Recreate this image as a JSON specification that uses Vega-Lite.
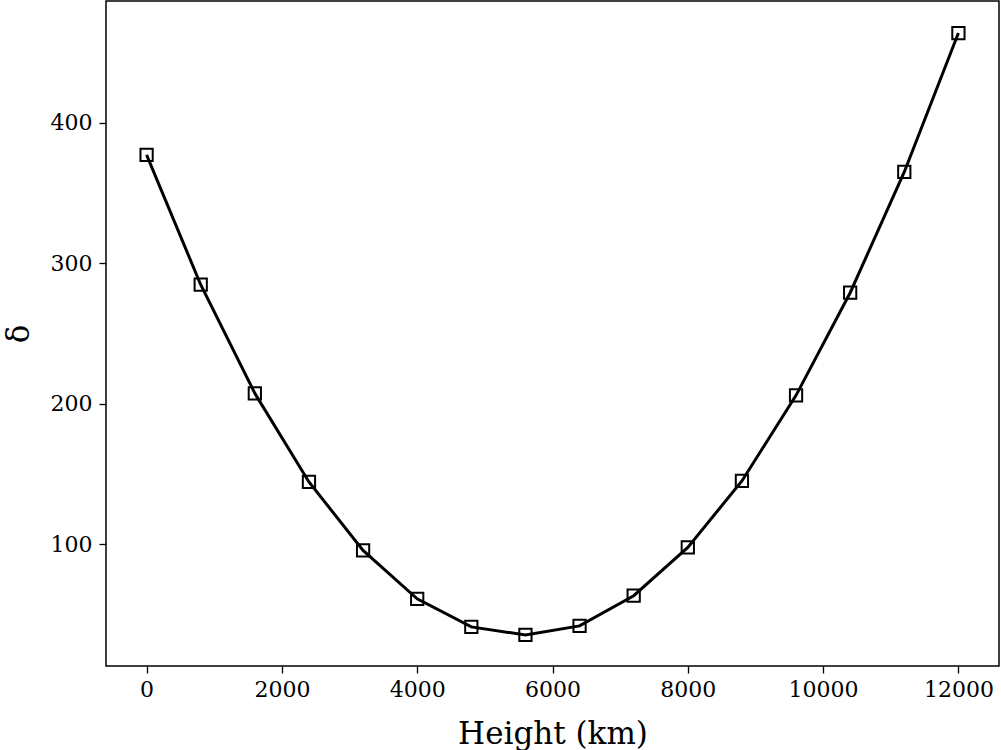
{
  "$schema": "https://vega.github.io/schema/vega-lite/v6.json",
  "width": 893,
  "height": 665,
  "autosize": {"type": "none"},
  "padding": {"left": 106, "top": 1, "right": 2, "bottom": 84},
  "background": "white",
  "config": {
    "view": {"stroke": "black", "strokeWidth": 1.5},
    "font": "DejaVu Serif",
    "axis": {
      "labelFont": "DejaVu Serif",
      "titleFont": "DejaVu Serif",
      "labelFontSize": 22,
      "titleFontSize": 31,
      "titleFontWeight": "normal",
      "labelColor": "black",
      "titleColor": "black",
      "tickColor": "black",
      "domainColor": "black",
      "tickSize": 7,
      "tickWidth": 1.3,
      "grid": false,
      "domain": false
    }
  },
  "data": {
    "values": [
      {"h": 0, "d": 377},
      {"h": 800, "d": 284.7},
      {"h": 1600, "d": 207.4},
      {"h": 2400, "d": 144.4},
      {"h": 3200, "d": 95.7},
      {"h": 4000, "d": 61.3},
      {"h": 4800, "d": 41.3},
      {"h": 5600, "d": 35.6},
      {"h": 6400, "d": 42},
      {"h": 7200, "d": 63.5},
      {"h": 8000, "d": 97.9},
      {"h": 8800, "d": 145.1},
      {"h": 9600, "d": 206},
      {"h": 10400, "d": 279},
      {"h": 11200, "d": 364.9},
      {"h": 12000, "d": 463.7}
    ]
  },
  "encoding": {
    "x": {
      "field": "h",
      "type": "quantitative",
      "scale": {"domain": [-600, 12600], "nice": false, "zero": false},
      "axis": {"values": [0, 2000, 4000, 6000, 8000, 10000, 12000], "format": "d", "title": "Height (km)", "labelPadding": 6, "titleY": 77, "titleBaseline": "alphabetic"}
    },
    "y": {
      "field": "d",
      "type": "quantitative",
      "scale": {"domain": [13.5, 486.5], "nice": false, "zero": false},
      "axis": {"values": [100, 200, 300, 400], "format": "d", "title": "δ", "labelPadding": 7, "titleX": -78, "titleBaseline": "alphabetic"}
    }
  },
  "layer": [
    {"mark": {"type": "line", "color": "black", "strokeWidth": 3}},
    {"mark": {"type": "square", "filled": false, "color": "black", "size": 150, "strokeWidth": 2, "opacity": 1}}
  ]
}
